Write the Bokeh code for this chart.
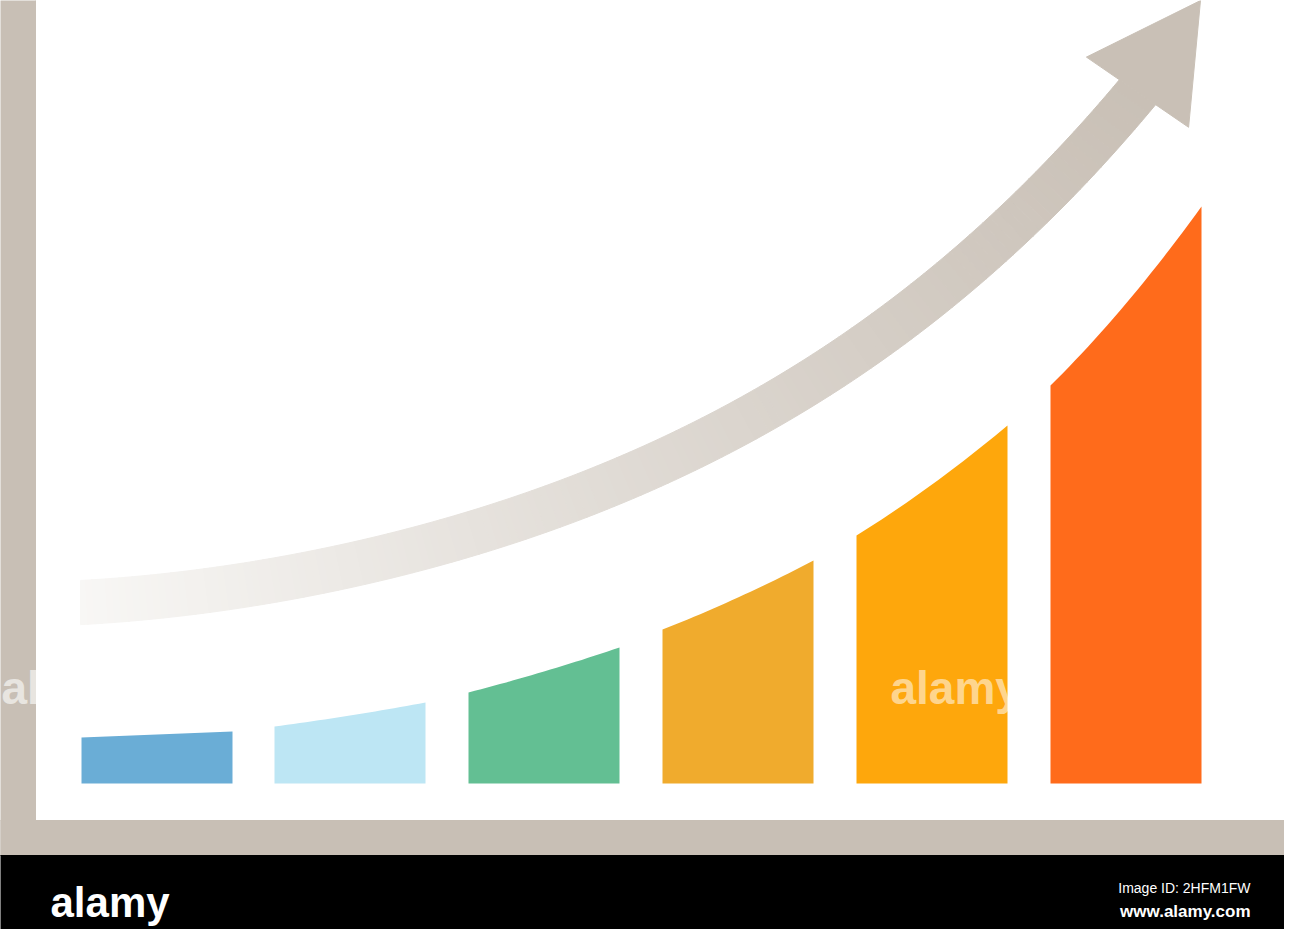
import numpy as np
from bokeh.plotting import figure
from bokeh.models import Range1d
from bokeh.embed import file_html
from bokeh.resources import INLINE
from bokeh.core.properties import value

# ---------------- data ----------------
bar_left = [81, 274, 468, 662, 856, 1050]
bar_right = [232, 425, 619, 813, 1007, 1201]
bar_top_left = [46, 57, 91, 154, 248, 398]
bar_top_mid = [49, 68, 112, 186, 299, 480]
bar_top_right = [52, 81, 136, 223, 358, 577]
bar_colors = ["#6aadd6", "#bde6f4", "#63bf93", "#f0ab2d", "#fea70c", "#ff6b1b"]

# trend arrow centre line (height above bar baseline)
trend_x = [80, 200, 400, 600, 800, 900, 1000, 1137]
trend_y = [181, 192, 230, 296, 395, 463, 548, 691]
arrow_tip = (1200, 783)

FRAME = "#c8bfb5"
BAND_START = "#f8f7f5"
BAND_END = "#c9c0b6"
FONT = value("Liberation Sans")

# ---------------- figure ----------------
p = figure(width=1284, height=929, x_range=Range1d(0, 1284), y_range=Range1d(-146, 783),
           output_backend="svg", toolbar_location=None, min_border=0)
p.axis.visible = False
p.grid.visible = False
p.outline_line_color = None
p.background_fill_color = "white"
p.border_fill_color = "white"

# frame (axes)
p.quad(left=[-10, -10], right=[35, 1310], bottom=[-72, -72], top=[800, -37],
       fill_color=FRAME, line_color=FRAME)
# black footer
p.quad(left=[-10], right=[1310], bottom=[-170], top=[-72], fill_color="black", line_color="black")


def hex2rgb(h):
    h = h.lstrip("#")
    return np.array([int(h[i:i + 2], 16) for i in (0, 2, 4)], dtype=float)


def rgb2hex(col):
    return "#%02x%02x%02x" % tuple(int(round(v)) for v in col)


# arrow band: smooth centre line through the read points
coef = np.polyfit(trend_x, trend_y, 4)
cx = np.linspace(trend_x[0], trend_x[-1], 160)
cy = np.polyval(coef, cx)
c = np.column_stack([cx, cy])
dcoef = np.polyder(coef)
tan = np.column_stack([np.ones_like(cx), np.polyval(dcoef, cx)])
tip = np.array(arrow_tip, dtype=float)
hd = tip - c[-1]
hd /= np.linalg.norm(hd)
tan /= np.linalg.norm(tan, axis=1)[:, None]
k = 12
for j in range(k):
    w = (j + 1) / k
    v = tan[-k + j] * (1 - w) + hd * w
    tan[-k + j] = v / np.linalg.norm(v)
nrm = np.column_stack([-tan[:, 1], tan[:, 0]])
half = 22
up = c + nrm * half
lo = c - nrm * half
up[0] = [cx[0], cy[0] + half]
lo[0] = [cx[0], cy[0] - half]
c0, c1 = hex2rgb(BAND_START), hex2rgb(BAND_END)
x0, x1 = trend_x[0], trend_x[-1]
xs, ys, cols = [], [], []
for i in range(len(c) - 1):
    xs.append([up[i, 0], up[i + 1, 0], lo[i + 1, 0], lo[i, 0]])
    ys.append([up[i, 1], up[i + 1, 1], lo[i + 1, 1], lo[i, 1]])
    f = np.clip(((c[i, 0] + c[i + 1, 0]) / 2 - x0) / (x1 - x0), 0, 1)
    cols.append(rgb2hex(c0 + (c1 - c0) * f))
p.patches(xs, ys, fill_color=cols, line_color=cols, line_width=1)

# arrow head
e = c[-1]
hn = np.array([-hd[1], hd[0]])
head = [e + hn * half, e + hn * 62, tip, e - hn * 62, e - hn * half]
p.patch([q[0] for q in head], [q[1] for q in head], fill_color=BAND_END, line_color=BAND_END)

# bars
bx, by = [], []
for l, r, tl, tm, tr in zip(bar_left, bar_right, bar_top_left, bar_top_mid, bar_top_right):
    t = np.linspace(0, 1, 25)
    yt = tl * (1 - t) * (1 - 2 * t) + tm * 4 * t * (1 - t) + tr * t * (2 * t - 1)
    xt = l + (r - l) * t
    bx.append([l, r] + list(xt[::-1]))
    by.append([0, 0] + list(yt[::-1]))
p.patches(bx, by, fill_color=bar_colors, line_color=None)

# watermark texts
p.text(x=[890], y=[96], text=["alamy"], text_color="white", text_alpha=0.55,
       text_font=FONT, text_font_style="bold",
       text_font_size="46px", text_baseline="alphabetic", text_align="left")
p.text(x=[1], y=[96], text=["alamy"], text_color="white", text_alpha=0.6,
       text_font=FONT, text_font_style="bold",
       text_font_size="46px", text_baseline="alphabetic", text_align="left")

# footer texts
p.text(x=[50], y=[-119], text=["alamy"], text_color="white",
       text_font=FONT, text_font_style="bold",
       text_font_size="42px", text_baseline="alphabetic", text_align="left")
p.text(x=[1250], y=[-104], text=["Image ID: 2HFM1FW"], text_color="white",
       text_font=FONT, text_font_size="14px",
       text_baseline="alphabetic", text_align="right")
p.text(x=[1250], y=[-128], text=["www.alamy.com"], text_color="white",
       text_font=FONT, text_font_style="bold",
       text_font_size="17px", text_baseline="alphabetic", text_align="right")

open("out.html", "w").write(file_html(p, INLINE))
